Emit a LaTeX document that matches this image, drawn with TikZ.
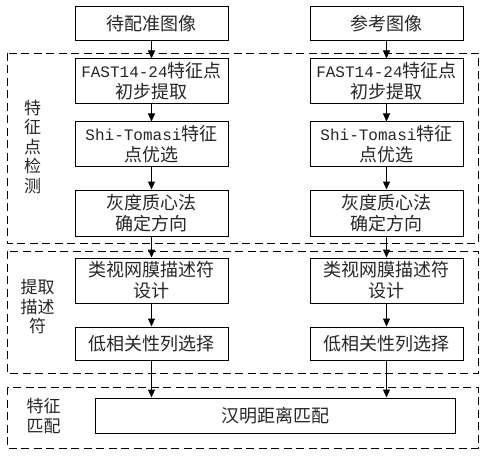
\documentclass[tikz,border=0pt]{standalone}
\usepackage{fontspec}
\setmainfont{Noto Sans CJK SC}
\newfontfamily\lat{Liberation Mono}
\usetikzlibrary{arrows.meta}
\begin{document}
\begin{tikzpicture}[x=1pt,y=-1pt,
  box/.style={draw,line width=1pt,minimum width=153pt,inner sep=0pt,align=center,
    font=\fontsize{18pt}{21pt}\selectfont,text=black!85},
  grp/.style={draw,dashed,dash pattern=on 8pt off 4.5pt,line width=0.8pt},
  lbl/.style={align=center,inner sep=0pt,font=\fontsize{17pt}{19.5pt}\selectfont,text=black!85},
  arr/.style={line width=1pt,-{Triangle[length=8pt,width=7pt]}}]
\useasboundingbox (0,0) rectangle (484,457);
% groups
\draw[grp] (7,53) rectangle (478,243);
\draw[grp] (7,251) rectangle (478,373);
\draw[grp] (7,387) rectangle (478,448);
\node[lbl] (g1) at (32.5,147) {特\\征\\点\\检\\测};
\node[lbl] (g2) at (37.5,307) {提取\\描述\\符};
\node[lbl] (g3) at (43.5,416) {特征\\匹配};
% left column
\node[box,minimum height=34pt] (a0) at (151.5,24) {待配准图像};
\node[box,minimum height=45pt] (a1) at (151.5,81.5) {{\lat\fontsize{16pt}{21pt}\selectfont FAST14-24}特征点\\初步提取};
\node[box,minimum height=45pt] (a2) at (151.5,144.5) {{\lat\fontsize{16pt}{21pt}\selectfont Shi-Tomasi}特征\\点优选};
\node[box,minimum height=46pt] (a3) at (151.5,213) {灰度质心法\\确定方向};
\node[box,minimum height=45pt] (a4) at (151.5,280.5) {类视网膜描述符\\设计};
\node[box,minimum height=33pt] (a5) at (151.5,343.5) {低相关性列选择};
% right column
\node[box,minimum height=34pt] (b0) at (386.5,24) {参考图像};
\node[box,minimum height=45pt] (b1) at (386.5,81.5) {{\lat\fontsize{16pt}{21pt}\selectfont FAST14-24}特征点\\初步提取};
\node[box,minimum height=45pt] (b2) at (386.5,144.5) {{\lat\fontsize{16pt}{21pt}\selectfont Shi-Tomasi}特征\\点优选};
\node[box,minimum height=46pt] (b3) at (386.5,213) {灰度质心法\\确定方向};
\node[box,minimum height=45pt] (b4) at (386.5,280.5) {类视网膜描述符\\设计};
\node[box,minimum height=33pt] (b5) at (386.5,343.5) {低相关性列选择};
% match
\node[box,minimum width=360pt,minimum height=35pt] (m) at (275,415.5) {汉明距离匹配};
% arrows
\draw[arr] (a0) -- (a1);
\draw[arr] (a1) -- (a2);
\draw[arr] (a2) -- (a3);
\draw[arr] (a3) -- (a4);
\draw[arr] (a4) -- (a5);
\draw[arr] (a5.south) -- (a5.south |- m.north);
\draw[arr] (b0) -- (b1);
\draw[arr] (b1) -- (b2);
\draw[arr] (b2) -- (b3);
\draw[arr] (b3) -- (b4);
\draw[arr] (b4) -- (b5);
\draw[arr] (b5.south) -- (b5.south |- m.north);
\end{tikzpicture}
\end{document}
